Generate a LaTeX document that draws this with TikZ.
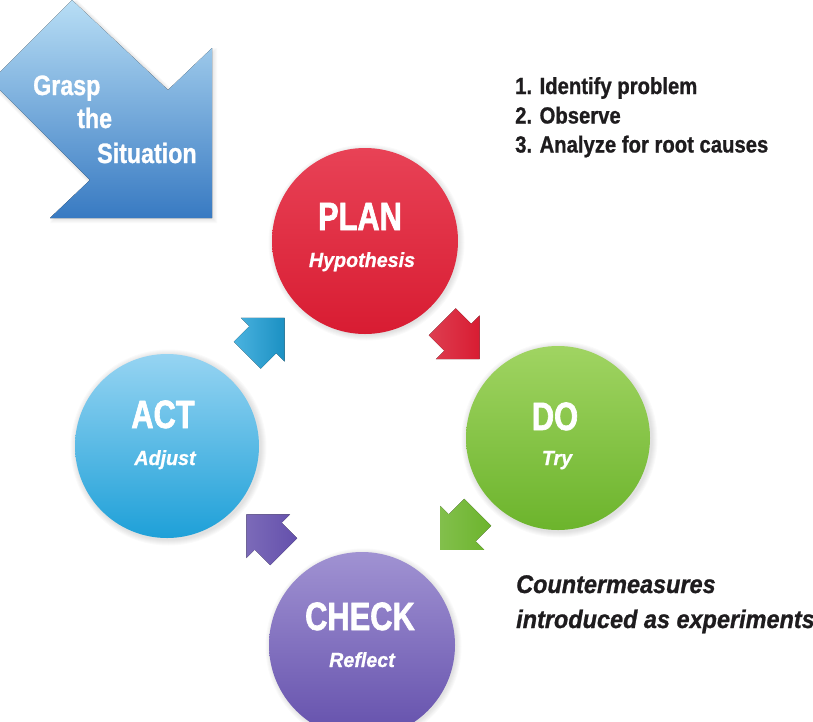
\documentclass[tikz,border=0pt]{standalone}
\usepackage{fontspec}
\setmainfont{Liberation Sans}
\newfontfamily\ttlfont[FakeStretch=0.78, FakeBold=1.6]{Liberation Sans}
\newfontfamily\subfont[FakeStretch=0.96, FakeBold=0.8]{Liberation Sans}
\newfontfamily\lstfont[FakeStretch=0.87, FakeBold=0.9]{Liberation Sans}
\newfontfamily\cmfont[FakeStretch=0.92, FakeBold=0.9]{Liberation Sans}
\newfontfamily\grfont[FakeStretch=0.83, FakeBold=1.0]{Liberation Sans}
\usetikzlibrary{calc}
\definecolor{planT}{RGB}{232,66,86}
\definecolor{planB}{RGB}{216,28,50}
\definecolor{doT}{RGB}{160,212,98}
\definecolor{doB}{RGB}{108,180,44}
\definecolor{actT}{RGB}{150,212,242}
\definecolor{actB}{RGB}{30,160,216}
\definecolor{chkT}{RGB}{160,146,210}
\definecolor{chkB}{RGB}{100,80,172}
\definecolor{grT}{RGB}{184,222,245}
\definecolor{grB}{RGB}{56,122,194}
\definecolor{txtdark}{RGB}{30,28,30}
\tikzset{
  phasecirc/.style={circle, minimum size=#1, inner sep=0pt},
  ttltext/.style={anchor=base, inner sep=0pt, text=white, font=\ttlfont\bfseries\fontsize{39.5}{40}\selectfont},
  subtext/.style={anchor=base, inner sep=0pt, text=white, font=\subfont\bfseries\itshape\fontsize{20.5}{22}\selectfont},
  lsttext/.style={anchor=base west, inner sep=0pt, text=txtdark, font=\lstfont\bfseries\fontsize{23.3}{25}\selectfont},
  cmtext/.style={anchor=base west, inner sep=0pt, text=txtdark, font=\cmfont\bfseries\itshape\fontsize{25.5}{27}\selectfont},
  grtext/.style={anchor=base west, inner sep=0pt, text=white, font=\grfont\bfseries\fontsize{28}{30}\selectfont},
  softshadow/.style={black, opacity=0.02},
}
\newcommand\blockarrow[3]{%
  \begin{scope}[shift={#1}, rotate=#2]
    \fill[#3] (-26.5,19) -- (-4.5,19) -- (-4.5,31) -- (26.5,0) -- (-4.5,-31) -- (-4.5,-19) -- (-26.5,-19) -- cycle;
  \end{scope}}
\begin{document}
\begin{tikzpicture}[x=1pt, y=-1pt]
\clip (0,0) rectangle (813,721);
\fill[white] (0,0) rectangle (813,721);

% big arrow: Grasp the Situation
\foreach \s in {1,...,5}{
  \fill[softshadow] (72+\s,0) -- (168+\s,90) -- (212+\s,48) -- (212+\s,218+\s) -- (50,218+\s) -- (90,180+\s) -- (-9,81+\s) -- cycle;
}
\fill[top color=grT, bottom color=grB] (72,0) -- (168,90) -- (212,48) -- (212,218) -- (50,218) -- (90,180) -- (-9,81) -- cycle;
\node[grtext] (grasp) at (33,95) {Grasp};
\node[grtext] (the) at (77,128) {the};
\node[grtext] (situation) at (97,163) {Situation};

% circles
\coordinate (cplan) at (365,241);
\coordinate (cdo) at (558,438);
\coordinate (cact) at (167,446);
\coordinate (cchk) at (362,645);
\foreach \c in {cplan,cdo,cact,cchk}{
  \foreach \r in {1,...,6}{
    \fill[softshadow] ($(\c)+(1.5,1.5)$) circle (92+\r);
  }
}
\node[phasecirc=186pt, top color=planT, bottom color=planB] (plan) at (cplan) {};
\node[phasecirc=184pt, top color=doT, bottom color=doB] (do) at (cdo) {};
\node[phasecirc=184pt, top color=actT, bottom color=actB] (act) at (cact) {};
\node[phasecirc=186pt, top color=chkT, bottom color=chkB] (check) at (cchk) {};

% block arrows between the phases
\coordinate (a1) at ($(act)!0.5!(plan)+(0,-7)$);
\coordinate (a2) at ($(plan)!0.5!(do)+(-0.5,1)$);
\coordinate (a3) at ($(do)!0.5!(check)+(-1,-10.5)$);
\coordinate (a4) at ($(check)!0.5!(act)+(0.5,-12.5)$);
\blockarrow{(a1)}{45}{left color=actB!80!white, right color=actB!90!black}
\blockarrow{(a2)}{-45}{left color=planB!85!white, right color=planB}
\blockarrow{(a3)}{-135}{left color=doB!85!white, right color=doB}
\blockarrow{(a4)}{135}{left color=chkB!85!white, right color=chkB}

% circle texts
\node[ttltext] (tplan) at (360,230) {PLAN};
\node[subtext] (splan) at (362,267) {Hypothesis};
\node[ttltext] (tdo) at (555,430) {DO};
\node[subtext] (sdo) at (557,465) {Try};
\node[ttltext] (tact) at (163,428) {ACT};
\node[subtext] (sact) at (165,465) {Adjust};
\node[ttltext] (tchk) at (360,630) {CHECK};
\node[subtext] (schk) at (362,667) {Reflect};

% side texts
\node[lsttext] (l1) at (515,94) {1. Identify problem};
\node[lsttext] (l2) at (515,123.5) {2. Observe};
\node[lsttext] (l3) at (515,152.5) {3. Analyze for root causes};
\node[cmtext] (c1) at (516,593) {Countermeasures};
\node[cmtext] (c2) at (516,628) {introduced as experiments};
\end{tikzpicture}
\end{document}
